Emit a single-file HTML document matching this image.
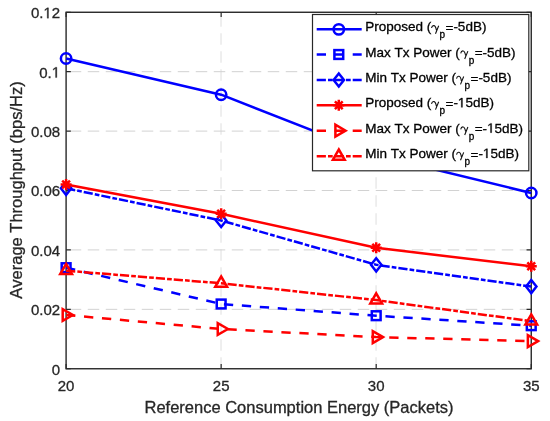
<!DOCTYPE html>
<html><head><meta charset="utf-8"><style>
html,body{margin:0;padding:0;background:#fff;width:550px;height:421px;overflow:hidden}
svg{display:block;will-change:transform}
text{font-family:"Liberation Sans",sans-serif;fill:#262626;stroke:#262626;stroke-width:0.3px;paint-order:stroke;font-kerning:none}
</style></head><body>
<svg width="550" height="421" viewBox="0 0 550 421">
<rect width="550" height="421" fill="#fff"/>

<path d="M221.00,368.75V12.27M376.05,368.75V12.27" stroke="#dedede" stroke-width="1" stroke-dasharray="11.5 6.5" fill="none"/>
<path d="M531.25,309.34H66.10M531.25,249.92H66.10M531.25,190.51H66.10M531.25,131.10H66.10M531.25,71.68H66.10" stroke="#d2d2d2" stroke-width="1" stroke-dasharray="11.5 6.5" fill="none"/>
<path d="M66.10,368.75V364.05M66.10,12.27V16.97M221.15,368.75V364.05M221.15,12.27V16.97M376.20,368.75V364.05M376.20,12.27V16.97M531.25,368.75V364.05M531.25,12.27V16.97M66.10,368.75H70.80M531.25,368.75H526.55M66.10,309.34H70.80M531.25,309.34H526.55M66.10,249.92H70.80M531.25,249.92H526.55M66.10,190.51H70.80M531.25,190.51H526.55M66.10,131.10H70.80M531.25,131.10H526.55M66.10,71.68H70.80M531.25,71.68H526.55M66.10,12.27H70.80M531.25,12.27H526.55" stroke="#282828" stroke-width="1.2" fill="none"/>
<rect x="66.10" y="12.27" width="465.15" height="356.48" fill="none" stroke="#282828" stroke-width="1.4"/>
<polyline points="66.10,58.50 221.15,94.70 376.20,155.30 531.25,193.00" fill="none" stroke="#0000ff" stroke-width="2.5" stroke-linejoin="round"/>
<circle cx="66.10" cy="58.50" r="5.2" fill="none" stroke="#0000ff" stroke-width="2.5"/>
<circle cx="221.15" cy="94.70" r="5.2" fill="none" stroke="#0000ff" stroke-width="2.5"/>
<circle cx="376.20" cy="155.30" r="5.2" fill="none" stroke="#0000ff" stroke-width="2.5"/>
<circle cx="531.25" cy="193.00" r="5.2" fill="none" stroke="#0000ff" stroke-width="2.5"/>
<polyline points="66.10,267.70 221.15,304.00 376.20,315.70 531.25,325.70" fill="none" stroke="#0000ff" stroke-width="2.5" stroke-dasharray="9.3 8.7" stroke-linejoin="round"/>
<rect x="61.70" y="263.30" width="8.80" height="8.80" fill="none" stroke="#0000ff" stroke-width="2.5"/>
<rect x="216.75" y="299.60" width="8.80" height="8.80" fill="none" stroke="#0000ff" stroke-width="2.5"/>
<rect x="371.80" y="311.30" width="8.80" height="8.80" fill="none" stroke="#0000ff" stroke-width="2.5"/>
<rect x="526.85" y="321.30" width="8.80" height="8.80" fill="none" stroke="#0000ff" stroke-width="2.5"/>
<polyline points="66.10,188.30 221.15,220.50 376.20,264.80 531.25,286.60" fill="none" stroke="#0000ff" stroke-width="2.5" stroke-dasharray="9.2 2.1 4.7 2.0" stroke-linejoin="round"/>
<path d="M66.10,181.70L71.30,188.30L66.10,194.90L60.90,188.30Z" fill="none" stroke="#0000ff" stroke-width="2.5" stroke-miterlimit="10"/>
<path d="M221.15,213.90L226.35,220.50L221.15,227.10L215.95,220.50Z" fill="none" stroke="#0000ff" stroke-width="2.5" stroke-miterlimit="10"/>
<path d="M376.20,258.20L381.40,264.80L376.20,271.40L371.00,264.80Z" fill="none" stroke="#0000ff" stroke-width="2.5" stroke-miterlimit="10"/>
<path d="M531.25,280.00L536.45,286.60L531.25,293.20L526.05,286.60Z" fill="none" stroke="#0000ff" stroke-width="2.5" stroke-miterlimit="10"/>
<polyline points="66.10,184.40 221.15,213.80 376.20,247.80 531.25,266.30" fill="none" stroke="#ff0000" stroke-width="2.5" stroke-linejoin="round"/>
<path d="M60.60,184.40H71.60M66.10,178.90V189.90M62.21,180.51L69.99,188.29M62.21,188.29L69.99,180.51" fill="none" stroke="#ff0000" stroke-width="2.5"/>
<path d="M215.65,213.80H226.65M221.15,208.30V219.30M217.26,209.91L225.04,217.69M217.26,217.69L225.04,209.91" fill="none" stroke="#ff0000" stroke-width="2.5"/>
<path d="M370.70,247.80H381.70M376.20,242.30V253.30M372.31,243.91L380.09,251.69M372.31,251.69L380.09,243.91" fill="none" stroke="#ff0000" stroke-width="2.5"/>
<path d="M525.75,266.30H536.75M531.25,260.80V271.80M527.36,262.41L535.14,270.19M527.36,270.19L535.14,262.41" fill="none" stroke="#ff0000" stroke-width="2.5"/>
<polyline points="66.10,315.00 221.15,329.00 376.20,337.10 531.25,341.10" fill="none" stroke="#ff0000" stroke-width="2.5" stroke-dasharray="9.3 8.7" stroke-linejoin="round"/>
<path d="M72.90,315.00L62.70,320.89L62.70,309.11Z" fill="none" stroke="#ff0000" stroke-width="2.5" stroke-miterlimit="10"/>
<path d="M227.95,329.00L217.75,334.89L217.75,323.11Z" fill="none" stroke="#ff0000" stroke-width="2.5" stroke-miterlimit="10"/>
<path d="M383.00,337.10L372.80,342.99L372.80,331.21Z" fill="none" stroke="#ff0000" stroke-width="2.5" stroke-miterlimit="10"/>
<path d="M538.05,341.10L527.85,346.99L527.85,335.21Z" fill="none" stroke="#ff0000" stroke-width="2.5" stroke-miterlimit="10"/>
<polyline points="66.10,270.70 221.15,283.30 376.20,300.10 531.25,321.20" fill="none" stroke="#ff0000" stroke-width="2.5" stroke-dasharray="9.2 2.1 4.7 2.0" stroke-linejoin="round"/>
<path d="M66.10,263.90L71.99,274.10L60.21,274.10Z" fill="none" stroke="#ff0000" stroke-width="2.5" stroke-miterlimit="10"/>
<path d="M221.15,276.50L227.04,286.70L215.26,286.70Z" fill="none" stroke="#ff0000" stroke-width="2.5" stroke-miterlimit="10"/>
<path d="M376.20,293.30L382.09,303.50L370.31,303.50Z" fill="none" stroke="#ff0000" stroke-width="2.5" stroke-miterlimit="10"/>
<path d="M531.25,314.40L537.14,324.60L525.36,324.60Z" fill="none" stroke="#ff0000" stroke-width="2.5" stroke-miterlimit="10"/>
<text x="57.76" y="390.70" font-size="15" style="fill:#262626;stroke:#262626">20</text>
<text x="212.81" y="390.70" font-size="15" style="fill:#262626;stroke:#262626">25</text>
<text x="367.86" y="390.70" font-size="15" style="fill:#262626;stroke:#262626">30</text>
<text x="522.91" y="390.70" font-size="15" style="fill:#262626;stroke:#262626">35</text>
<text x="51.76" y="374.65" font-size="15" style="fill:#262626;stroke:#262626">0</text>
<text x="30.91" y="315.24" font-size="15" style="fill:#262626;stroke:#262626">0.02</text>
<text x="30.91" y="255.82" font-size="15" style="fill:#262626;stroke:#262626">0.04</text>
<text x="30.91" y="196.41" font-size="15" style="fill:#262626;stroke:#262626">0.06</text>
<text x="30.91" y="137.00" font-size="15" style="fill:#262626;stroke:#262626">0.08</text>
<text x="39.25" y="77.58" font-size="15" style="fill:#262626;stroke:#262626">0.</text>
<path d="M55.53,77.58L55.53,68.52L53.20,70.19L53.20,68.94L55.64,67.26L56.86,67.26L56.86,77.58Z" fill="#262626" stroke="#262626" stroke-width="0.3" stroke-linejoin="round"/>
<text x="30.91" y="18.17" font-size="15" style="fill:#262626;stroke:#262626">0.</text>
<path d="M47.19,18.17L47.19,9.11L44.86,10.77L44.86,9.53L47.30,7.85L48.51,7.85L48.51,18.17Z" fill="#262626" stroke="#262626" stroke-width="0.3" stroke-linejoin="round"/>
<text x="51.76" y="18.17" font-size="15" style="fill:#262626;stroke:#262626">2</text>
<text x="299" y="412.8" font-size="16.5" text-anchor="middle">Reference Consumption Energy (Packets)</text>
<text transform="translate(21.7,190.0) rotate(-90)" font-size="16.5" text-anchor="middle">Average Throughput (bps/Hz)</text>
<rect x="312.5" y="14.5" width="216.30" height="156.30" fill="#fff" stroke="#282828" stroke-width="1.2"/>
<line x1="316.7" y1="29.35" x2="361.7" y2="29.35" stroke="#0000ff" stroke-width="2.5"/>
<circle cx="338.80" cy="29.35" r="5.2" fill="none" stroke="#0000ff" stroke-width="2.5"/>
<text x="365.20" y="31.40" font-size="13.5" style="fill:#000;stroke:#000">Proposed (</text>
<path d="M431.50,28.00C431.90,26.20 433.00,25.45 434.00,25.65C435.20,25.90 436.00,27.80 436.40,30.20M438.70,25.80L435.50,33.70" fill="none" stroke="#111" stroke-width="1.1"/>
<text x="439.50" y="38.40" font-size="10.0" style="fill:#000;stroke:#000">p</text>
<text x="445.50" y="32.10" font-size="13.5" style="fill:#000;stroke:#000">=</text>
<text x="453.38" y="31.40" font-size="13.5" style="fill:#000;stroke:#000">-5dB)</text>
<line x1="316.7" y1="54.50" x2="361.7" y2="54.50" stroke="#0000ff" stroke-width="2.5" stroke-dasharray="9.3 8.7"/>
<rect x="334.40" y="50.10" width="8.80" height="8.80" fill="none" stroke="#0000ff" stroke-width="2.5"/>
<text x="365.20" y="56.72" font-size="13.5" style="fill:#000;stroke:#000">Max Tx Power (</text>
<path d="M460.70,53.32C461.10,51.52 462.20,50.77 463.20,50.97C464.40,51.22 465.20,53.12 465.60,55.52M467.90,51.12L464.70,59.02" fill="none" stroke="#111" stroke-width="1.1"/>
<text x="468.70" y="63.72" font-size="10.0" style="fill:#000;stroke:#000">p</text>
<text x="474.70" y="57.42" font-size="13.5" style="fill:#000;stroke:#000">=</text>
<text x="482.58" y="56.72" font-size="13.5" style="fill:#000;stroke:#000">-5dB)</text>
<line x1="316.7" y1="80.00" x2="361.7" y2="80.00" stroke="#0000ff" stroke-width="2.5" stroke-dasharray="9.2 2.1 4.7 2.0"/>
<path d="M338.80,73.40L344.00,80.00L338.80,86.60L333.60,80.00Z" fill="none" stroke="#0000ff" stroke-width="2.5" stroke-miterlimit="10"/>
<text x="365.20" y="82.04" font-size="13.5" style="fill:#000;stroke:#000">Min Tx Power (</text>
<path d="M456.50,78.64C456.90,76.84 458.00,76.09 459.00,76.29C460.20,76.54 461.00,78.44 461.40,80.84M463.70,76.44L460.50,84.34" fill="none" stroke="#111" stroke-width="1.1"/>
<text x="464.50" y="89.04" font-size="10.0" style="fill:#000;stroke:#000">p</text>
<text x="470.50" y="82.74" font-size="13.5" style="fill:#000;stroke:#000">=</text>
<text x="478.38" y="82.04" font-size="13.5" style="fill:#000;stroke:#000">-5dB)</text>
<line x1="316.7" y1="105.30" x2="361.7" y2="105.30" stroke="#ff0000" stroke-width="2.5"/>
<path d="M333.30,105.30H344.30M338.80,99.80V110.80M334.91,101.41L342.69,109.19M334.91,109.19L342.69,101.41" fill="none" stroke="#ff0000" stroke-width="2.5"/>
<text x="365.20" y="107.36" font-size="13.5" style="fill:#000;stroke:#000">Proposed (</text>
<path d="M431.50,103.96C431.90,102.16 433.00,101.41 434.00,101.61C435.20,101.86 436.00,103.76 436.40,106.16M438.70,101.76L435.50,109.66" fill="none" stroke="#111" stroke-width="1.1"/>
<text x="439.50" y="114.36" font-size="10.0" style="fill:#000;stroke:#000">p</text>
<text x="445.50" y="108.06" font-size="13.5" style="fill:#000;stroke:#000">=</text>
<text x="453.38" y="107.36" font-size="13.5" style="fill:#000;stroke:#000">-</text>
<path d="M461.27,107.36L461.27,99.21L459.18,100.70L459.18,99.58L461.37,98.07L462.47,98.07L462.47,107.36Z" fill="#000" stroke="#000" stroke-width="0.3" stroke-linejoin="round"/>
<text x="465.39" y="107.36" font-size="13.5" style="fill:#000;stroke:#000">5dB)</text>
<line x1="316.7" y1="130.65" x2="361.7" y2="130.65" stroke="#ff0000" stroke-width="2.5" stroke-dasharray="9.3 8.7"/>
<path d="M345.60,130.65L335.40,136.54L335.40,124.76Z" fill="none" stroke="#ff0000" stroke-width="2.5" stroke-miterlimit="10"/>
<text x="365.20" y="132.68" font-size="13.5" style="fill:#000;stroke:#000">Max Tx Power (</text>
<path d="M460.70,129.28C461.10,127.48 462.20,126.73 463.20,126.93C464.40,127.18 465.20,129.08 465.60,131.48M467.90,127.08L464.70,134.98" fill="none" stroke="#111" stroke-width="1.1"/>
<text x="468.70" y="139.68" font-size="10.0" style="fill:#000;stroke:#000">p</text>
<text x="474.70" y="133.38" font-size="13.5" style="fill:#000;stroke:#000">=</text>
<text x="482.58" y="132.68" font-size="13.5" style="fill:#000;stroke:#000">-</text>
<path d="M490.47,132.68L490.47,124.53L488.38,126.02L488.38,124.90L490.57,123.39L491.67,123.39L491.67,132.68Z" fill="#000" stroke="#000" stroke-width="0.3" stroke-linejoin="round"/>
<text x="494.59" y="132.68" font-size="13.5" style="fill:#000;stroke:#000">5dB)</text>
<line x1="316.7" y1="156.30" x2="361.7" y2="156.30" stroke="#ff0000" stroke-width="2.5" stroke-dasharray="9.2 2.1 4.7 2.0"/>
<path d="M338.80,149.50L344.69,159.70L332.91,159.70Z" fill="none" stroke="#ff0000" stroke-width="2.5" stroke-miterlimit="10"/>
<text x="365.20" y="158.00" font-size="13.5" style="fill:#000;stroke:#000">Min Tx Power (</text>
<path d="M456.50,154.60C456.90,152.80 458.00,152.05 459.00,152.25C460.20,152.50 461.00,154.40 461.40,156.80M463.70,152.40L460.50,160.30" fill="none" stroke="#111" stroke-width="1.1"/>
<text x="464.50" y="165.00" font-size="10.0" style="fill:#000;stroke:#000">p</text>
<text x="470.50" y="158.70" font-size="13.5" style="fill:#000;stroke:#000">=</text>
<text x="478.38" y="158.00" font-size="13.5" style="fill:#000;stroke:#000">-</text>
<path d="M486.27,158.00L486.27,149.85L484.18,151.34L484.18,150.22L486.37,148.71L487.47,148.71L487.47,158.00Z" fill="#000" stroke="#000" stroke-width="0.3" stroke-linejoin="round"/>
<text x="490.39" y="158.00" font-size="13.5" style="fill:#000;stroke:#000">5dB)</text>
</svg></body></html>
